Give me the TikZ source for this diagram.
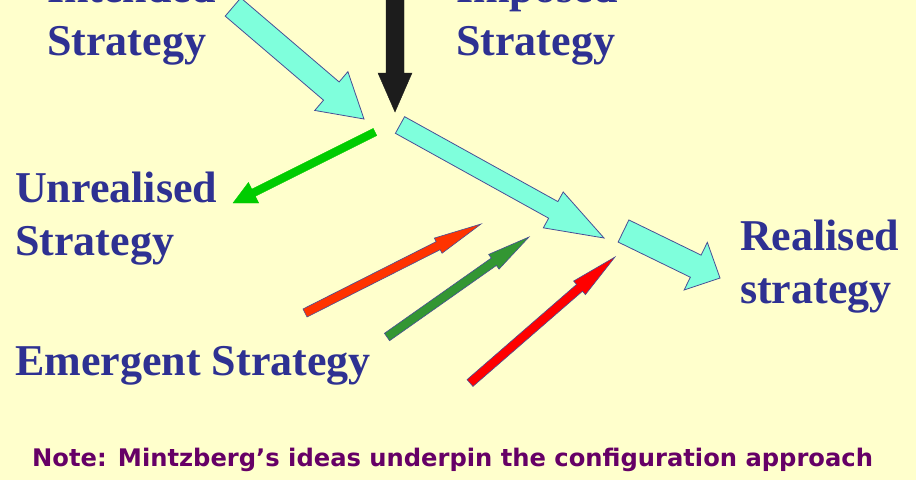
\documentclass[tikz,border=0pt]{standalone}
\usepackage{fontspec}
\setmainfont{Liberation Serif}
\newfontfamily\notefont{DejaVu Sans}
\usetikzlibrary{calc}

\definecolor{bgyellow}{RGB}{255,255,204}
\definecolor{stratblue}{RGB}{46,49,146}
\definecolor{notepurple}{RGB}{102,0,102}
\definecolor{arrowcyan}{RGB}{127,255,220}
\definecolor{edgeblue}{RGB}{72,78,150}
\definecolor{imposedblack}{RGB}{28,28,28}
\definecolor{unrealgreen}{RGB}{0,204,0}
\definecolor{emorange}{RGB}{255,51,0}
\definecolor{emgreen}{RGB}{51,150,51}
\definecolor{emred}{RGB}{255,0,0}

% block arrow: style, tail, tip, half shaft, half head, head length
\newcommand{\blockarrow}[6]{%
  \coordinate (ba-base) at ($(#3)!#6!(#2)$);
  \draw[#1] ($(#2)!#4!90:(#3)$) -- ($(ba-base)!#4!-90:(#2)$) -- ($(ba-base)!#5!-90:(#2)$)
    -- (#3) -- ($(ba-base)!#5!90:(#2)$) -- ($(ba-base)!#4!90:(#2)$) -- ($(#2)!#4!-90:(#3)$) -- cycle;}

\begin{document}
\begin{tikzpicture}[x=1pt, y=-1pt,
    strattext/.style={anchor=base west, inner sep=0pt, align=left, text=stratblue,
      font=\bfseries\fontsize{44}{53}\selectfont},
    notetext/.style={anchor=base west, inner sep=0pt, text=notepurple,
      font=\notefont\bfseries\fontsize{24.2}{28}\selectfont},
    cyanarrow/.style={fill=arrowcyan, draw=edgeblue, line width=0.8pt},
    thinarrow/.style={draw=edgeblue, line width=0.6pt}]
  \useasboundingbox (0,0) rectangle (916,480);
  \fill[bgyellow] (0,0) rectangle (916,480);   %background
  \clip (0,0) rectangle (916,480);

  % labels (base = last line)
  \node[strattext] (intended) at (47,55) {Intended\\Strategy};
  \node[strattext] (imposed) at (456,55) {Imposed\\Strategy};
  \node[strattext] (unrealised) at (15,255) {Unrealised\\Strategy};
  \node[strattext] (emergent) at (15,375) {Emergent Strategy};
  \node[strattext] (realised) at (740,303) {Realised\\strategy};
  \node[notetext] (note) at (32,466) {Note: Mintzberg’s ideas underpin the configuration approach};

  % arrow ends
  \coordinate (int-tail) at (233,7);    \coordinate (int-tip) at (364,119);
  \coordinate (imp-tail) at (395,-10);  \coordinate (imp-tip) at (395,112);
  \coordinate (del-tail) at (400,125);  \coordinate (del-tip) at (604,238);
  \coordinate (real-tail) at (623.5,231); \coordinate (real-tip) at (720,278);
  \coordinate (unr-tail) at (375,132);  \coordinate (unr-tip) at (233,203);
  \coordinate (em1-tail) at (305,313);  \coordinate (em1-tip) at (481,224);
  \coordinate (em2-tail) at (387,337);  \coordinate (em2-tip) at (529,237);
  \coordinate (em3-tail) at (470,383);  \coordinate (em3-tip) at (615,257);

  % big arrows
  \blockarrow{cyanarrow}{int-tail}{int-tip}{12pt}{25.5pt}{43pt}
  \blockarrow{fill=imposedblack, draw=imposedblack}{imp-tail}{imp-tip}{9pt}{17pt}{39pt}
  \blockarrow{cyanarrow}{del-tail}{del-tip}{9.5pt}{20.5pt}{58pt}
  \blockarrow{cyanarrow}{real-tail}{real-tip}{12.3pt}{26.5pt}{27pt}
  % thin arrows
  \blockarrow{fill=unrealgreen, draw=unrealgreen}{unr-tail}{unr-tip}{4pt}{11.5pt}{23pt}
  \blockarrow{thinarrow, fill=emorange}{em1-tail}{em1-tip}{4.5pt}{8.5pt}{48pt}
  \blockarrow{thinarrow, fill=emgreen}{em2-tail}{em2-tip}{4.5pt}{9pt}{43pt}
  \blockarrow{thinarrow, fill=emred}{em3-tail}{em3-tip}{4.5pt}{9pt}{47pt}
\end{tikzpicture}
\end{document}
